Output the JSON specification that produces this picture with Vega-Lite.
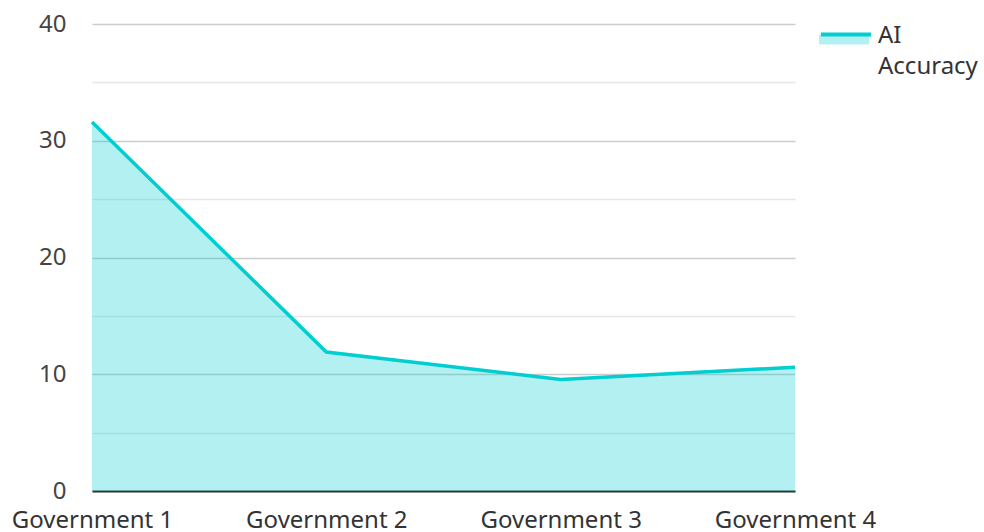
{
  "$schema": "https://vega.github.io/schema/vega-lite/v6.json",
  "width": 703,
  "height": 467,
  "autosize": {"type": "none"},
  "padding": {"left": 92, "top": 24, "right": 189, "bottom": 41},
  "background": "white",
  "config": {
    "view": {"stroke": null},
    "font": "Noto Sans",
    "style": {"guide-label": {"lineHeight": 31}}
  },
  "data": {
    "values": [
      {"gov": "Government 1", "series": "AI Accuracy", "value": 31.6},
      {"gov": "Government 2", "series": "AI Accuracy", "value": 11.9},
      {"gov": "Government 3", "series": "AI Accuracy", "value": 9.55},
      {"gov": "Government 4", "series": "AI Accuracy", "value": 10.6}
    ]
  },
  "encoding": {
    "x": {
      "field": "gov",
      "type": "ordinal",
      "sort": null,
      "scale": {"type": "point", "padding": 0},
      "axis": {
        "title": null,
        "labelAngle": 0,
        "labelFontSize": 24,
        "labelColor": "#333333",
        "ticks": false,
        "domainColor": "#333333",
        "domainWidth": 2,
        "labelPadding": 17,
        "grid": false
      }
    },
    "y": {
      "field": "value",
      "type": "quantitative",
      "scale": {"domain": [0, 40], "nice": false},
      "axis": {
        "title": null,
        "values": [0, 5, 10, 15, 20, 25, 30, 35, 40],
        "labelExpr": "datum.value % 10 === 0 ? datum.label : ''",
        "gridColor": {"condition": {"test": "datum.value % 10 === 0", "value": "#cccccc"}, "value": "#e6e6e6"},
        "gridWidth": 1.5,
        "domain": false,
        "ticks": false,
        "labelPadding": 26,
        "labelFontSize": 24,
        "labelColor": "#444444",
        "labelOverlap": false
      }
    }
  },
  "layer": [
    {
      "mark": {"type": "area", "fillOpacity": 0.3},
      "encoding": {
        "fill": {
          "field": "series",
          "type": "nominal",
          "scale": {"range": ["#00ced1"]},
          "legend": {
            "orient": "none",
            "legendX": 727,
            "legendY": -27,
            "title": null,
            "padding": 0,
            "symbolType": "M-1,0.5H1V0.9H-1Z",
            "symbolSize": 2500,
            "symbolOpacity": 0.3,
            "symbolStrokeWidth": 0,
            "labelExpr": "''"
          }
        }
      }
    },
    {
      "mark": {"type": "line", "strokeWidth": 3.5},
      "encoding": {
        "stroke": {
          "datum": "AI Accuracy",
          "type": "nominal",
          "scale": {"range": ["#00ced1"]},
          "legend": {
            "orient": "none",
            "legendX": 727,
            "legendY": -27,
            "title": null,
            "padding": 0,
            "symbolType": "M-1,0.42H1",
            "symbolSize": 2500,
            "symbolStrokeWidth": 4,
            "labelFontSize": 24,
            "labelColor": "#333333",
            "labelBaseline": "top",
            "labelOffset": 5,
            "labelExpr": "split(datum.label, ' ')"
          }
        }
      }
    }
  ]
}
